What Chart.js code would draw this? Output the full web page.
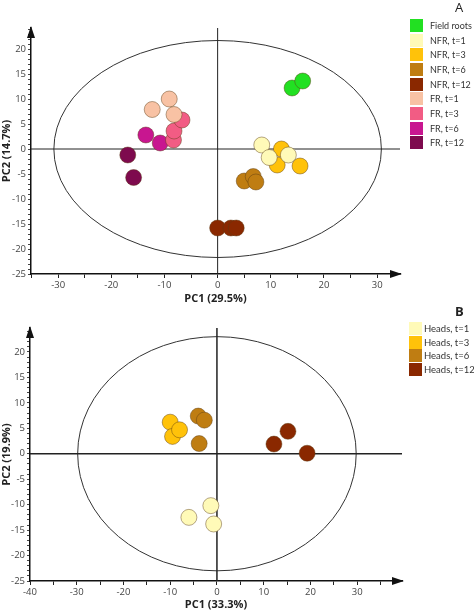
<!DOCTYPE html>
<html><head><meta charset="utf-8">
<script src="https://cdn.jsdelivr.net/npm/chart.js@4"></script>
<style>
body{margin:0;background:#fff;font-family:"Open Sans",sans-serif;}
.wrap{position:absolute;left:0;width:474px;}
.leg{position:absolute;font-size:9px;color:#333;font-family:Lato,sans-serif;}
.leg div{height:14.7px;display:flex;align-items:center;white-space:nowrap;}
.leg span{display:inline-block;width:13px;height:13px;margin-right:7px;}
.lab{position:absolute;font-size:13px;color:#222;}
</style></head><body>
<div class="wrap" style="top:0;height:305px"><canvas id="a"></canvas></div>
<div class="wrap" style="top:300px;height:311px"><canvas id="b"></canvas></div>
<div class="lab" style="left:455px;top:-2px">A</div>
<div class="lab" style="left:455px;top:302px;font-weight:bold">B</div>
<div class="leg" id="legA" style="left:410px;top:18px"></div>
<div class="leg" id="legB" style="left:409px;top:322px"></div>
<script>
// Chart A data
const namesA = ["Field roots","NFR, t=1","NFR, t=3","NFR, t=6","NFR, t=12","FR, t=1","FR, t=3","FR, t=6","FR, t=12"];
const colorsA = ["#22e022","#fffab8","#ffc20a","#bf7d12","#8a2800","#f8c2a4","#f25c84","#c81690","#7e0a4e"];
const fieldRoots = [[14,12.2],[16,13.6]];
const nfr1 = [[8.3,0.8],[9.7,-1.7],[13.3,-1.2]];
const nfr3 = [[12,0],[11.2,-3.2],[15.5,-3.4]];
const nfr6 = [[5,-6.4],[6.7,-5.5],[7.2,-6.6]];
const nfr12 = [[0,-15.8],[2.5,-15.8],[3.5,-15.8]];
const fr1 = [[-12.3,7.9],[-9.1,10],[-8.2,6.9]];
const fr3 = [[-8.3,1.8],[-8.2,3.6],[-6.7,5.8]];
const fr6 = [[-13.5,2.8],[-10.8,1.2]];
const fr12 = [[-16.9,-1.2],[-15.8,-5.7]];
const seriesA = [fieldRoots,nfr1,nfr3,nfr6,nfr12,fr1,fr3,fr6,fr12];
// Chart B data
const namesB = ["Heads, t=1","Heads, t=3","Heads, t=6","Heads, t=12"];
const colorsB = ["#fffab8","#ffc20a","#bf7d12","#8a2800"];
const heads1 = [[-6,-12.5],[-1.3,-10.2],[-0.7,-13.8]];
const heads3 = [[-10,6.2],[-9.5,3.4],[-8,4.7]];
const heads6 = [[-4,7.4],[-2.7,6.6],[-3.8,2]];
const heads12 = [[12.2,1.9],[15.2,4.4],[19.3,0.1]];
const seriesB = [heads1,heads3,heads6,heads12];
const ellipseA = {rx:30.8, ry:21.7};
const ellipseB = {rx:29.8, ry:23};

function legend(id,names,colors){
  const el=document.getElementById(id);
  names.forEach((n,i)=>{el.innerHTML+=`<div><span style="background:${colors[i]}"></span>${n}</div>`;});
}
legend('legA',namesA,colorsA);
legend('legB',namesB,colorsB);
document.querySelector('#legB').querySelectorAll('span').forEach(s=>s.style.marginRight='2px');
document.querySelector('#legB').style.fontSize='9.5px';
document.querySelectorAll('#legB div').forEach(d=>d.style.height='13.6px');

const deco = {
  id:'deco',
  beforeDatasetsDraw(chart,args,opts){
    const c=chart.ctx, x=chart.scales.x, y=chart.scales.y, a=chart.chartArea;
    c.save();
    c.strokeStyle='#333'; c.lineWidth=1;
    c.beginPath();
    c.ellipse(x.getPixelForValue(0),y.getPixelForValue(0),
      x.getPixelForValue(opts.rx)-x.getPixelForValue(0),
      y.getPixelForValue(0)-y.getPixelForValue(opts.ry),0,0,Math.PI*2);
    c.stroke();
    c.strokeStyle='#222'; c.lineWidth=opts.zw;
    c.beginPath();
    c.moveTo(x.getPixelForValue(0),a.top); c.lineTo(x.getPixelForValue(0),a.bottom);
    c.moveTo(a.left,y.getPixelForValue(0)); c.lineTo(a.right,y.getPixelForValue(0));
    c.stroke();
    c.fillStyle='#111';
    c.beginPath(); c.moveTo(a.left,a.top-2); c.lineTo(a.left-4,a.top+10); c.lineTo(a.left+4,a.top+10); c.fill();
    c.beginPath(); c.moveTo(a.right+2,a.bottom); c.lineTo(a.right-10,a.bottom-4); c.lineTo(a.right-10,a.bottom+4); c.fill();
    c.restore();
  }
};

function make(id,names,colors,series,xmin,xmax,ymax,xt,yt,padR,xh,yw,ell,zw){
  new Chart(document.getElementById(id),{
    type:'scatter',
    data:{datasets:series.map((s,i)=>({label:names[i],data:s.map(p=>({x:p[0],y:p[1]})),
      backgroundColor:colors[i],borderColor:'rgba(90,60,20,0.45)',borderWidth:1,pointRadius:8,pointHoverRadius:8}))},
    options:{
      responsive:true,maintainAspectRatio:false,animation:false,
      layout:{padding:{top:28,right:padR,left:0,bottom:0}},
      plugins:{legend:{display:false},tooltip:{enabled:false},deco:{rx:ell.rx,ry:ell.ry,zw:zw}},
      scales:{
        x:{type:'linear',min:xmin,max:xmax,afterFit(s){s.height=xh;},
          afterBuildTicks(s){const t=[];for(let v=Math.ceil(xmin/5)*5;v<=xmax;v+=5)t.push({value:v});s.ticks=t;},
          ticks:{autoSkip:false,maxRotation:0,color:'#444',font:{family:'Open Sans',size:9.5},padding:2,
            callback:v=>v%10===0?v:''},
          grid:{drawOnChartArea:false,tickLength:4,color:'#222'},
          border:{color:'#111',width:1.5},
          title:{display:true,text:xt,color:'#222',font:{family:'Open Sans',size:11,weight:'bold'},padding:{top:0,bottom:0}}},
        y:{type:'linear',min:-25,max:ymax,afterFit(s){s.width=yw;},
          afterBuildTicks(s){const t=[];for(let v=-25;v<=ymax;v+=1)t.push({value:v});s.ticks=t;},
          ticks:{autoSkip:false,color:'#444',font:{family:'Open Sans',size:9.5},padding:2,
            callback:v=>v%5===0?v:''},
          grid:{drawOnChartArea:false,tickLength:3,color:'#444'},
          border:{color:'#111',width:1.5},
          title:{display:true,text:yt,color:'#222',font:{family:'Open Sans',size:11,weight:'bold'},padding:{top:0,bottom:0}}}
      }
    },
    plugins:[deco]
  });
}
make('a',namesA,colorsA,seriesA,-35.1,34.3,24.2,'PC1 (29.5%)','PC2 (14.7%)',74,31,31,ellipseA,1);
make('b',namesB,colorsB,seriesB,-40,39.6,24.7,'PC1 (33.3%)','PC2 (19.9%)',72,30,30,ellipseB,1.5);
</script></body></html>
